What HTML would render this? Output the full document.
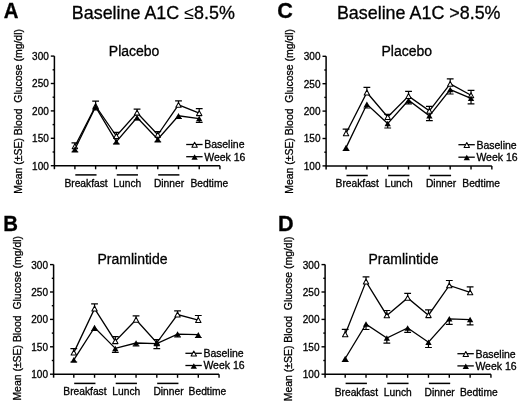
<!DOCTYPE html>
<html><head><meta charset="utf-8"><title>Figure</title>
<style>
html,body{margin:0;padding:0;background:#fff;width:520px;height:405px;overflow:hidden}
svg{display:block;font-family:'Liberation Sans', Arial, Helvetica, sans-serif;fill:#000}
text{stroke:#000;stroke-width:0.3px}
</style></head><body>
<svg width="520" height="405" viewBox="0 0 520 405">
<rect width="520" height="405" fill="#fff"/>
<g><text transform="translate(3.7 17.8) scale(0.97 1.07)" font-size="21" font-weight="bold">A</text><text x="71.8" y="18.6" font-size="17.9">Baseline A1C <tspan style="stroke-width:0">≤</tspan>8.5%</text><text x="108.8" y="55.8" font-size="14">Placebo</text><text transform="translate(22.1 193.7) rotate(-90)" font-size="10.45" style="white-space:pre">Mean (±SE) Blood  Glucose (mg/dl)</text><path d="M54.4 56.1V169.2" stroke="#000" stroke-width="1.5" fill="none"/><path d="M54.4 165.7H219.94" stroke="#000" stroke-width="1.5" fill="none"/><path d="M50.8 165.7H54.4" stroke="#000" stroke-width="1.4"/><text x="48.8" y="169.6" font-size="10" text-anchor="end">100</text><path d="M52.6 152H54.4" stroke="#000" stroke-width="1.4"/><path d="M50.8 138.3H54.4" stroke="#000" stroke-width="1.4"/><text x="48.8" y="142.2" font-size="10" text-anchor="end">150</text><path d="M52.6 124.6H54.4" stroke="#000" stroke-width="1.4"/><path d="M50.8 110.9H54.4" stroke="#000" stroke-width="1.4"/><text x="48.8" y="114.8" font-size="10" text-anchor="end">200</text><path d="M52.6 97.2H54.4" stroke="#000" stroke-width="1.4"/><path d="M50.8 83.5H54.4" stroke="#000" stroke-width="1.4"/><text x="48.8" y="87.4" font-size="10" text-anchor="end">250</text><path d="M52.6 69.8H54.4" stroke="#000" stroke-width="1.4"/><path d="M50.8 56.1H54.4" stroke="#000" stroke-width="1.4"/><text x="48.8" y="60" font-size="10" text-anchor="end">300</text><path d="M74.9 165.7V169.3" stroke="#000" stroke-width="1.4"/><path d="M95.62 165.7V169.3" stroke="#000" stroke-width="1.4"/><path d="M116.34 165.7V169.3" stroke="#000" stroke-width="1.4"/><path d="M137.06 165.7V169.3" stroke="#000" stroke-width="1.4"/><path d="M157.78 165.7V169.3" stroke="#000" stroke-width="1.4"/><path d="M178.5 165.7V169.3" stroke="#000" stroke-width="1.4"/><path d="M199.22 165.7V169.3" stroke="#000" stroke-width="1.4"/><path d="M219.94 165.7V169.3" stroke="#000" stroke-width="1.4"/><path d="M75.3 174.9H96.52" stroke="#000" stroke-width="1.5"/><path d="M116.74 174.9H137.96" stroke="#000" stroke-width="1.5"/><path d="M158.18 174.9H179.4" stroke="#000" stroke-width="1.5"/><text x="64.4" y="186.6" font-size="10.25">Breakfast</text><text x="113.34" y="186.6" font-size="10.25">Lunch</text><text x="153.88" y="186.6" font-size="10.25">Dinner</text><text x="190.52" y="186.6" font-size="10.25">Bedtime</text><polyline points="74.9,146.3 95.62,106 116.34,136 137.06,112.7 157.78,134.8 178.5,104.9 199.22,113.2" fill="none" stroke="#000" stroke-width="1.3" stroke-linejoin="miter"/><path d="M74.9 146.3V142.8M71.5 142.8H78.3" stroke="#000" stroke-width="1.2" fill="none"/><path d="M95.62 106V101.2M92.22 101.2H99.02" stroke="#000" stroke-width="1.2" fill="none"/><path d="M116.34 136V132.3M112.94 132.3H119.74" stroke="#000" stroke-width="1.2" fill="none"/><path d="M137.06 112.7V109.1M133.66 109.1H140.46" stroke="#000" stroke-width="1.2" fill="none"/><path d="M157.78 134.8V131.6M154.38 131.6H161.18" stroke="#000" stroke-width="1.2" fill="none"/><path d="M178.5 104.9V100.9M175.1 100.9H181.9" stroke="#000" stroke-width="1.2" fill="none"/><path d="M199.22 113.2V108.7M195.82 108.7H202.62" stroke="#000" stroke-width="1.2" fill="none"/><path d="M74.9 143.8L77.6 148.7L72.2 148.7Z" fill="#fff" stroke="#000" stroke-width="1.05" stroke-linejoin="round"/><path d="M95.62 103.5L98.32 108.4L92.92 108.4Z" fill="#fff" stroke="#000" stroke-width="1.05" stroke-linejoin="round"/><path d="M116.34 133.5L119.04 138.4L113.64 138.4Z" fill="#fff" stroke="#000" stroke-width="1.05" stroke-linejoin="round"/><path d="M137.06 110.2L139.76 115.1L134.36 115.1Z" fill="#fff" stroke="#000" stroke-width="1.05" stroke-linejoin="round"/><path d="M157.78 132.3L160.48 137.2L155.08 137.2Z" fill="#fff" stroke="#000" stroke-width="1.05" stroke-linejoin="round"/><path d="M178.5 102.4L181.2 107.3L175.8 107.3Z" fill="#fff" stroke="#000" stroke-width="1.05" stroke-linejoin="round"/><path d="M199.22 110.7L201.92 115.6L196.52 115.6Z" fill="#fff" stroke="#000" stroke-width="1.05" stroke-linejoin="round"/><polyline points="74.9,149.3 95.62,106.8 116.34,141.6 137.06,117.5 157.78,139.2 178.5,115.8 199.22,118.6" fill="none" stroke="#000" stroke-width="1.3" stroke-linejoin="miter"/><path d="M74.9 149.3V152M71.5 152H78.3" stroke="#000" stroke-width="1.2" fill="none"/><path d="M95.62 106.8V110M92.22 110H99.02" stroke="#000" stroke-width="1.2" fill="none"/><path d="M116.34 141.6V144M112.94 144H119.74" stroke="#000" stroke-width="1.2" fill="none"/><path d="M137.06 117.5V120M133.66 120H140.46" stroke="#000" stroke-width="1.2" fill="none"/><path d="M157.78 139.2V142M154.38 142H161.18" stroke="#000" stroke-width="1.2" fill="none"/><path d="M178.5 115.8V118.5M175.1 118.5H181.9" stroke="#000" stroke-width="1.2" fill="none"/><path d="M199.22 118.6V122.3M195.82 122.3H202.62" stroke="#000" stroke-width="1.2" fill="none"/><path d="M74.9 146.55L78.05 152.05L71.75 152.05Z" fill="#000"/><path d="M95.62 104.05L98.77 109.55L92.47 109.55Z" fill="#000"/><path d="M116.34 138.85L119.49 144.35L113.19 144.35Z" fill="#000"/><path d="M137.06 114.75L140.21 120.25L133.91 120.25Z" fill="#000"/><path d="M157.78 136.45L160.93 141.95L154.63 141.95Z" fill="#000"/><path d="M178.5 113.05L181.65 118.55L175.35 118.55Z" fill="#000"/><path d="M199.22 115.85L202.37 121.35L196.07 121.35Z" fill="#000"/><path d="M186.2 144.5H202.6" stroke="#000" stroke-width="1.3"/><path d="M194.6 142.3L197.3 147.2L191.9 147.2Z" fill="#fff" stroke="#000" stroke-width="1.05" stroke-linejoin="round"/><text x="204.2" y="148.4" font-size="10.5">Baseline</text><path d="M186.2 156.7H202.6" stroke="#000" stroke-width="1.3"/><path d="M194.6 154.35L197.75 159.85L191.45 159.85Z" fill="#000"/><text x="204.2" y="160.6" font-size="10.5">Week 16</text></g>
<g><text transform="translate(277.3 18.4) scale(1.03 1.05)" font-size="21" font-weight="bold">C</text><text x="336.9" y="18.7" font-size="17.9">Baseline A1C >8.5%</text><text x="381.5" y="55.8" font-size="14">Placebo</text><text transform="translate(293.1 193.7) rotate(-90)" font-size="10.45" style="white-space:pre">Mean (±SE) Blood  Glucose (mg/dl)</text><path d="M326.1 56.3V169.4" stroke="#000" stroke-width="1.5" fill="none"/><path d="M326.1 165.9H491.86" stroke="#000" stroke-width="1.5" fill="none"/><path d="M322.5 165.9H326.1" stroke="#000" stroke-width="1.4"/><text x="320.5" y="169.8" font-size="10" text-anchor="end">100</text><path d="M324.3 152.2H326.1" stroke="#000" stroke-width="1.4"/><path d="M322.5 138.5H326.1" stroke="#000" stroke-width="1.4"/><text x="320.5" y="142.4" font-size="10" text-anchor="end">150</text><path d="M324.3 124.8H326.1" stroke="#000" stroke-width="1.4"/><path d="M322.5 111.1H326.1" stroke="#000" stroke-width="1.4"/><text x="320.5" y="115" font-size="10" text-anchor="end">200</text><path d="M324.3 97.4H326.1" stroke="#000" stroke-width="1.4"/><path d="M322.5 83.7H326.1" stroke="#000" stroke-width="1.4"/><text x="320.5" y="87.6" font-size="10" text-anchor="end">250</text><path d="M324.3 70H326.1" stroke="#000" stroke-width="1.4"/><path d="M322.5 56.3H326.1" stroke="#000" stroke-width="1.4"/><text x="320.5" y="60.2" font-size="10" text-anchor="end">300</text><path d="M346.05 165.9V169.5" stroke="#000" stroke-width="1.4"/><path d="M366.88 165.9V169.5" stroke="#000" stroke-width="1.4"/><path d="M387.71 165.9V169.5" stroke="#000" stroke-width="1.4"/><path d="M408.54 165.9V169.5" stroke="#000" stroke-width="1.4"/><path d="M429.37 165.9V169.5" stroke="#000" stroke-width="1.4"/><path d="M450.2 165.9V169.5" stroke="#000" stroke-width="1.4"/><path d="M471.03 165.9V169.5" stroke="#000" stroke-width="1.4"/><path d="M491.86 165.9V169.5" stroke="#000" stroke-width="1.4"/><path d="M346.45 175.5H367.78" stroke="#000" stroke-width="1.5"/><path d="M388.11 175.5H409.44" stroke="#000" stroke-width="1.5"/><path d="M429.77 175.5H451.1" stroke="#000" stroke-width="1.5"/><text x="335.55" y="186.8" font-size="10.25">Breakfast</text><text x="384.71" y="186.8" font-size="10.25">Lunch</text><text x="425.97" y="186.8" font-size="10.25">Dinner</text><text x="462.33" y="186.8" font-size="10.25">Bedtime</text><polyline points="346.05,133.3 366.88,92.5 387.71,117 408.54,96.1 429.37,110.9 450.2,83.9 471.03,95.3" fill="none" stroke="#000" stroke-width="1.3" stroke-linejoin="miter"/><path d="M346.05 133.3V129.1M342.65 129.1H349.45" stroke="#000" stroke-width="1.2" fill="none"/><path d="M366.88 92.5V87.4M363.48 87.4H370.28" stroke="#000" stroke-width="1.2" fill="none"/><path d="M387.71 117V114.3M384.31 114.3H391.11" stroke="#000" stroke-width="1.2" fill="none"/><path d="M408.54 96.1V91.3M405.14 91.3H411.94" stroke="#000" stroke-width="1.2" fill="none"/><path d="M429.37 110.9V106.3M425.97 106.3H432.77" stroke="#000" stroke-width="1.2" fill="none"/><path d="M450.2 83.9V78.9M446.8 78.9H453.6" stroke="#000" stroke-width="1.2" fill="none"/><path d="M471.03 95.3V90.3M467.63 90.3H474.43" stroke="#000" stroke-width="1.2" fill="none"/><path d="M346.05 130.8L348.75 135.7L343.35 135.7Z" fill="#fff" stroke="#000" stroke-width="1.05" stroke-linejoin="round"/><path d="M366.88 90L369.58 94.9L364.18 94.9Z" fill="#fff" stroke="#000" stroke-width="1.05" stroke-linejoin="round"/><path d="M387.71 114.5L390.41 119.4L385.01 119.4Z" fill="#fff" stroke="#000" stroke-width="1.05" stroke-linejoin="round"/><path d="M408.54 93.6L411.24 98.5L405.84 98.5Z" fill="#fff" stroke="#000" stroke-width="1.05" stroke-linejoin="round"/><path d="M429.37 108.4L432.07 113.3L426.67 113.3Z" fill="#fff" stroke="#000" stroke-width="1.05" stroke-linejoin="round"/><path d="M450.2 81.4L452.9 86.3L447.5 86.3Z" fill="#fff" stroke="#000" stroke-width="1.05" stroke-linejoin="round"/><path d="M471.03 92.8L473.73 97.7L468.33 97.7Z" fill="#fff" stroke="#000" stroke-width="1.05" stroke-linejoin="round"/><polyline points="346.05,147.6 366.88,104.3 387.71,123.6 408.54,100.2 429.37,115.8 450.2,89.6 471.03,98.3" fill="none" stroke="#000" stroke-width="1.3" stroke-linejoin="miter"/><path d="M346.05 147.6V150.5M342.65 150.5H349.45" stroke="#000" stroke-width="1.2" fill="none"/><path d="M366.88 104.3V108M363.48 108H370.28" stroke="#000" stroke-width="1.2" fill="none"/><path d="M387.71 123.6V128M384.31 128H391.11" stroke="#000" stroke-width="1.2" fill="none"/><path d="M408.54 100.2V103.9M405.14 103.9H411.94" stroke="#000" stroke-width="1.2" fill="none"/><path d="M429.37 115.8V120.7M425.97 120.7H432.77" stroke="#000" stroke-width="1.2" fill="none"/><path d="M450.2 89.6V94M446.8 94H453.6" stroke="#000" stroke-width="1.2" fill="none"/><path d="M471.03 98.3V103.9M467.63 103.9H474.43" stroke="#000" stroke-width="1.2" fill="none"/><path d="M346.05 144.85L349.2 150.35L342.9 150.35Z" fill="#000"/><path d="M366.88 101.55L370.03 107.05L363.73 107.05Z" fill="#000"/><path d="M387.71 120.85L390.86 126.35L384.56 126.35Z" fill="#000"/><path d="M408.54 97.45L411.69 102.95L405.39 102.95Z" fill="#000"/><path d="M429.37 113.05L432.52 118.55L426.22 118.55Z" fill="#000"/><path d="M450.2 86.85L453.35 92.35L447.05 92.35Z" fill="#000"/><path d="M471.03 95.55L474.18 101.05L467.88 101.05Z" fill="#000"/><path d="M458.4 144.7H474.8" stroke="#000" stroke-width="1.3"/><path d="M466.8 142.5L469.5 147.4L464.1 147.4Z" fill="#fff" stroke="#000" stroke-width="1.05" stroke-linejoin="round"/><text x="476.4" y="148.6" font-size="10.5">Baseline</text><path d="M458.4 157.2H474.8" stroke="#000" stroke-width="1.3"/><path d="M466.8 154.85L469.95 160.35L463.65 160.35Z" fill="#000"/><text x="476.4" y="161.1" font-size="10.5">Week 16</text></g>
<g><text transform="translate(3.2 230.9) scale(0.97 1.07)" font-size="21" font-weight="bold">B</text><text x="97.5" y="263.6" font-size="14">Pramlintide</text><text transform="translate(20.6 400.6) rotate(-90)" font-size="10.45" style="white-space:pre">Mean (±SE) Blood  Glucose (mg/dl)</text><path d="M53.6 264.6V377.7" stroke="#000" stroke-width="1.5" fill="none"/><path d="M53.6 374.2H219.05" stroke="#000" stroke-width="1.5" fill="none"/><path d="M50 374.2H53.6" stroke="#000" stroke-width="1.4"/><text x="48" y="378.1" font-size="10" text-anchor="end">100</text><path d="M51.8 360.5H53.6" stroke="#000" stroke-width="1.4"/><path d="M50 346.8H53.6" stroke="#000" stroke-width="1.4"/><text x="48" y="350.7" font-size="10" text-anchor="end">150</text><path d="M51.8 333.1H53.6" stroke="#000" stroke-width="1.4"/><path d="M50 319.4H53.6" stroke="#000" stroke-width="1.4"/><text x="48" y="323.3" font-size="10" text-anchor="end">200</text><path d="M51.8 305.7H53.6" stroke="#000" stroke-width="1.4"/><path d="M50 292H53.6" stroke="#000" stroke-width="1.4"/><text x="48" y="295.9" font-size="10" text-anchor="end">250</text><path d="M51.8 278.3H53.6" stroke="#000" stroke-width="1.4"/><path d="M50 264.6H53.6" stroke="#000" stroke-width="1.4"/><text x="48" y="268.5" font-size="10" text-anchor="end">300</text><path d="M73.8 374.2V377.8" stroke="#000" stroke-width="1.4"/><path d="M94.55 374.2V377.8" stroke="#000" stroke-width="1.4"/><path d="M115.3 374.2V377.8" stroke="#000" stroke-width="1.4"/><path d="M136.05 374.2V377.8" stroke="#000" stroke-width="1.4"/><path d="M156.8 374.2V377.8" stroke="#000" stroke-width="1.4"/><path d="M177.55 374.2V377.8" stroke="#000" stroke-width="1.4"/><path d="M198.3 374.2V377.8" stroke="#000" stroke-width="1.4"/><path d="M219.05 374.2V377.8" stroke="#000" stroke-width="1.4"/><path d="M74.2 383.4H95.45" stroke="#000" stroke-width="1.5"/><path d="M115.7 383.4H136.95" stroke="#000" stroke-width="1.5"/><path d="M157.2 383.4H178.45" stroke="#000" stroke-width="1.5"/><text x="63.3" y="395.3" font-size="10.25">Breakfast</text><text x="112.3" y="395.3" font-size="10.25">Lunch</text><text x="153.4" y="395.3" font-size="10.25">Dinner</text><text x="188.6" y="395.3" font-size="10.25">Bedtime</text><polyline points="73.8,352.6 94.55,308.6 115.3,341.2 136.05,319.8 156.8,342.8 177.55,314.6 198.3,320.1" fill="none" stroke="#000" stroke-width="1.3" stroke-linejoin="miter"/><path d="M73.8 352.6V348.7M70.4 348.7H77.2" stroke="#000" stroke-width="1.2" fill="none"/><path d="M94.55 308.6V303.8M91.15 303.8H97.95" stroke="#000" stroke-width="1.2" fill="none"/><path d="M115.3 341.2V336.6M111.9 336.6H118.7" stroke="#000" stroke-width="1.2" fill="none"/><path d="M136.05 319.8V315.8M132.65 315.8H139.45" stroke="#000" stroke-width="1.2" fill="none"/><path d="M156.8 342.8V339.5M153.4 339.5H160.2" stroke="#000" stroke-width="1.2" fill="none"/><path d="M177.55 314.6V310.8M174.15 310.8H180.95" stroke="#000" stroke-width="1.2" fill="none"/><path d="M198.3 320.1V315.5M194.9 315.5H201.7" stroke="#000" stroke-width="1.2" fill="none"/><path d="M73.8 350.1L76.5 355L71.1 355Z" fill="#fff" stroke="#000" stroke-width="1.05" stroke-linejoin="round"/><path d="M94.55 306.1L97.25 311L91.85 311Z" fill="#fff" stroke="#000" stroke-width="1.05" stroke-linejoin="round"/><path d="M115.3 338.7L118 343.6L112.6 343.6Z" fill="#fff" stroke="#000" stroke-width="1.05" stroke-linejoin="round"/><path d="M136.05 317.3L138.75 322.2L133.35 322.2Z" fill="#fff" stroke="#000" stroke-width="1.05" stroke-linejoin="round"/><path d="M156.8 340.3L159.5 345.2L154.1 345.2Z" fill="#fff" stroke="#000" stroke-width="1.05" stroke-linejoin="round"/><path d="M177.55 312.1L180.25 317L174.85 317Z" fill="#fff" stroke="#000" stroke-width="1.05" stroke-linejoin="round"/><path d="M198.3 317.6L201 322.5L195.6 322.5Z" fill="#fff" stroke="#000" stroke-width="1.05" stroke-linejoin="round"/><polyline points="73.8,359.8 94.55,327.5 115.3,348.4 136.05,343 156.8,343.6 177.55,334.1 198.3,334.7" fill="none" stroke="#000" stroke-width="1.3" stroke-linejoin="miter"/><path d="M73.8 359.8V362M70.4 362H77.2" stroke="#000" stroke-width="1.2" fill="none"/><path d="M94.55 327.5V330.5M91.15 330.5H97.95" stroke="#000" stroke-width="1.2" fill="none"/><path d="M115.3 348.4V352.4M111.9 352.4H118.7" stroke="#000" stroke-width="1.2" fill="none"/><path d="M136.05 343V346M132.65 346H139.45" stroke="#000" stroke-width="1.2" fill="none"/><path d="M156.8 343.6V348.6M153.4 348.6H160.2" stroke="#000" stroke-width="1.2" fill="none"/><path d="M177.55 334.1V337M174.15 337H180.95" stroke="#000" stroke-width="1.2" fill="none"/><path d="M198.3 334.7V337.5M194.9 337.5H201.7" stroke="#000" stroke-width="1.2" fill="none"/><path d="M73.8 357.05L76.95 362.55L70.65 362.55Z" fill="#000"/><path d="M94.55 324.75L97.7 330.25L91.4 330.25Z" fill="#000"/><path d="M115.3 345.65L118.45 351.15L112.15 351.15Z" fill="#000"/><path d="M136.05 340.25L139.2 345.75L132.9 345.75Z" fill="#000"/><path d="M156.8 340.85L159.95 346.35L153.65 346.35Z" fill="#000"/><path d="M177.55 331.35L180.7 336.85L174.4 336.85Z" fill="#000"/><path d="M198.3 331.95L201.45 337.45L195.15 337.45Z" fill="#000"/><path d="M185.4 353.3H201.8" stroke="#000" stroke-width="1.3"/><path d="M193.8 351.1L196.5 356L191.1 356Z" fill="#fff" stroke="#000" stroke-width="1.05" stroke-linejoin="round"/><text x="203.4" y="357.2" font-size="10.5">Baseline</text><path d="M185.4 365.5H201.8" stroke="#000" stroke-width="1.3"/><path d="M193.8 363.15L196.95 368.65L190.65 368.65Z" fill="#000"/><text x="203.4" y="369.4" font-size="10.5">Week 16</text></g>
<g><text transform="translate(278 230.9) scale(1.03 1.07)" font-size="21" font-weight="bold">D</text><text x="368.5" y="263.6" font-size="14">Pramlintide</text><text transform="translate(292.3 401.2) rotate(-90)" font-size="10.45" style="white-space:pre">Mean (±SE) Blood  Glucose (mg/dl)</text><path d="M325.1 264.6V377.7" stroke="#000" stroke-width="1.5" fill="none"/><path d="M325.1 374.2H490.94" stroke="#000" stroke-width="1.5" fill="none"/><path d="M321.5 374.2H325.1" stroke="#000" stroke-width="1.4"/><text x="319.5" y="378.1" font-size="10" text-anchor="end">100</text><path d="M323.3 360.5H325.1" stroke="#000" stroke-width="1.4"/><path d="M321.5 346.8H325.1" stroke="#000" stroke-width="1.4"/><text x="319.5" y="350.7" font-size="10" text-anchor="end">150</text><path d="M323.3 333.1H325.1" stroke="#000" stroke-width="1.4"/><path d="M321.5 319.4H325.1" stroke="#000" stroke-width="1.4"/><text x="319.5" y="323.3" font-size="10" text-anchor="end">200</text><path d="M323.3 305.7H325.1" stroke="#000" stroke-width="1.4"/><path d="M321.5 292H325.1" stroke="#000" stroke-width="1.4"/><text x="319.5" y="295.9" font-size="10" text-anchor="end">250</text><path d="M323.3 278.3H325.1" stroke="#000" stroke-width="1.4"/><path d="M321.5 264.6H325.1" stroke="#000" stroke-width="1.4"/><text x="319.5" y="268.5" font-size="10" text-anchor="end">300</text><path d="M345.2 374.2V377.8" stroke="#000" stroke-width="1.4"/><path d="M366.02 374.2V377.8" stroke="#000" stroke-width="1.4"/><path d="M386.84 374.2V377.8" stroke="#000" stroke-width="1.4"/><path d="M407.66 374.2V377.8" stroke="#000" stroke-width="1.4"/><path d="M428.48 374.2V377.8" stroke="#000" stroke-width="1.4"/><path d="M449.3 374.2V377.8" stroke="#000" stroke-width="1.4"/><path d="M470.12 374.2V377.8" stroke="#000" stroke-width="1.4"/><path d="M490.94 374.2V377.8" stroke="#000" stroke-width="1.4"/><path d="M345.6 383.4H366.92" stroke="#000" stroke-width="1.5"/><path d="M387.24 383.4H408.56" stroke="#000" stroke-width="1.5"/><path d="M428.88 383.4H450.2" stroke="#000" stroke-width="1.5"/><text x="334.7" y="395.7" font-size="10.25">Breakfast</text><text x="383.84" y="395.7" font-size="10.25">Lunch</text><text x="424.58" y="395.7" font-size="10.25">Dinner</text><text x="460.02" y="395.7" font-size="10.25">Bedtime</text><polyline points="345.2,334.3 366.02,281.6 386.84,315.4 407.66,297.9 428.48,315.2 449.3,285.4 470.12,292.4" fill="none" stroke="#000" stroke-width="1.3" stroke-linejoin="miter"/><path d="M345.2 334.3V329.3M341.8 329.3H348.6" stroke="#000" stroke-width="1.2" fill="none"/><path d="M366.02 281.6V276.9M362.62 276.9H369.42" stroke="#000" stroke-width="1.2" fill="none"/><path d="M386.84 315.4V310.5M383.44 310.5H390.24" stroke="#000" stroke-width="1.2" fill="none"/><path d="M407.66 297.9V293.3M404.26 293.3H411.06" stroke="#000" stroke-width="1.2" fill="none"/><path d="M428.48 315.2V309.8M425.08 309.8H431.88" stroke="#000" stroke-width="1.2" fill="none"/><path d="M449.3 285.4V280.5M445.9 280.5H452.7" stroke="#000" stroke-width="1.2" fill="none"/><path d="M470.12 292.4V286.9M466.72 286.9H473.52" stroke="#000" stroke-width="1.2" fill="none"/><path d="M345.2 331.8L347.9 336.7L342.5 336.7Z" fill="#fff" stroke="#000" stroke-width="1.05" stroke-linejoin="round"/><path d="M366.02 279.1L368.72 284L363.32 284Z" fill="#fff" stroke="#000" stroke-width="1.05" stroke-linejoin="round"/><path d="M386.84 312.9L389.54 317.8L384.14 317.8Z" fill="#fff" stroke="#000" stroke-width="1.05" stroke-linejoin="round"/><path d="M407.66 295.4L410.36 300.3L404.96 300.3Z" fill="#fff" stroke="#000" stroke-width="1.05" stroke-linejoin="round"/><path d="M428.48 312.7L431.18 317.6L425.78 317.6Z" fill="#fff" stroke="#000" stroke-width="1.05" stroke-linejoin="round"/><path d="M449.3 282.9L452 287.8L446.6 287.8Z" fill="#fff" stroke="#000" stroke-width="1.05" stroke-linejoin="round"/><path d="M470.12 289.9L472.82 294.8L467.42 294.8Z" fill="#fff" stroke="#000" stroke-width="1.05" stroke-linejoin="round"/><polyline points="345.2,358.5 366.02,324.1 386.84,338.1 407.66,327.9 428.48,342.2 449.3,318.8 470.12,319.6" fill="none" stroke="#000" stroke-width="1.3" stroke-linejoin="miter"/><path d="M345.2 358.5V361.5M341.8 361.5H348.6" stroke="#000" stroke-width="1.2" fill="none"/><path d="M366.02 324.1V329.5M362.62 329.5H369.42" stroke="#000" stroke-width="1.2" fill="none"/><path d="M386.84 338.1V343.2M383.44 343.2H390.24" stroke="#000" stroke-width="1.2" fill="none"/><path d="M407.66 327.9V332.3M404.26 332.3H411.06" stroke="#000" stroke-width="1.2" fill="none"/><path d="M428.48 342.2V347.5M425.08 347.5H431.88" stroke="#000" stroke-width="1.2" fill="none"/><path d="M449.3 318.8V324.3M445.9 324.3H452.7" stroke="#000" stroke-width="1.2" fill="none"/><path d="M470.12 319.6V324.8M466.72 324.8H473.52" stroke="#000" stroke-width="1.2" fill="none"/><path d="M345.2 355.75L348.35 361.25L342.05 361.25Z" fill="#000"/><path d="M366.02 321.35L369.17 326.85L362.87 326.85Z" fill="#000"/><path d="M386.84 335.35L389.99 340.85L383.69 340.85Z" fill="#000"/><path d="M407.66 325.15L410.81 330.65L404.51 330.65Z" fill="#000"/><path d="M428.48 339.45L431.63 344.95L425.33 344.95Z" fill="#000"/><path d="M449.3 316.05L452.45 321.55L446.15 321.55Z" fill="#000"/><path d="M470.12 316.85L473.27 322.35L466.97 322.35Z" fill="#000"/><path d="M457.4 353.7H473.8" stroke="#000" stroke-width="1.3"/><path d="M465.8 351.5L468.5 356.4L463.1 356.4Z" fill="#fff" stroke="#000" stroke-width="1.05" stroke-linejoin="round"/><text x="475.4" y="357.6" font-size="10.5">Baseline</text><path d="M457.4 365.9H473.8" stroke="#000" stroke-width="1.3"/><path d="M465.8 363.55L468.95 369.05L462.65 369.05Z" fill="#000"/><text x="475.4" y="369.8" font-size="10.5">Week 16</text></g>
</svg>
</body></html>
